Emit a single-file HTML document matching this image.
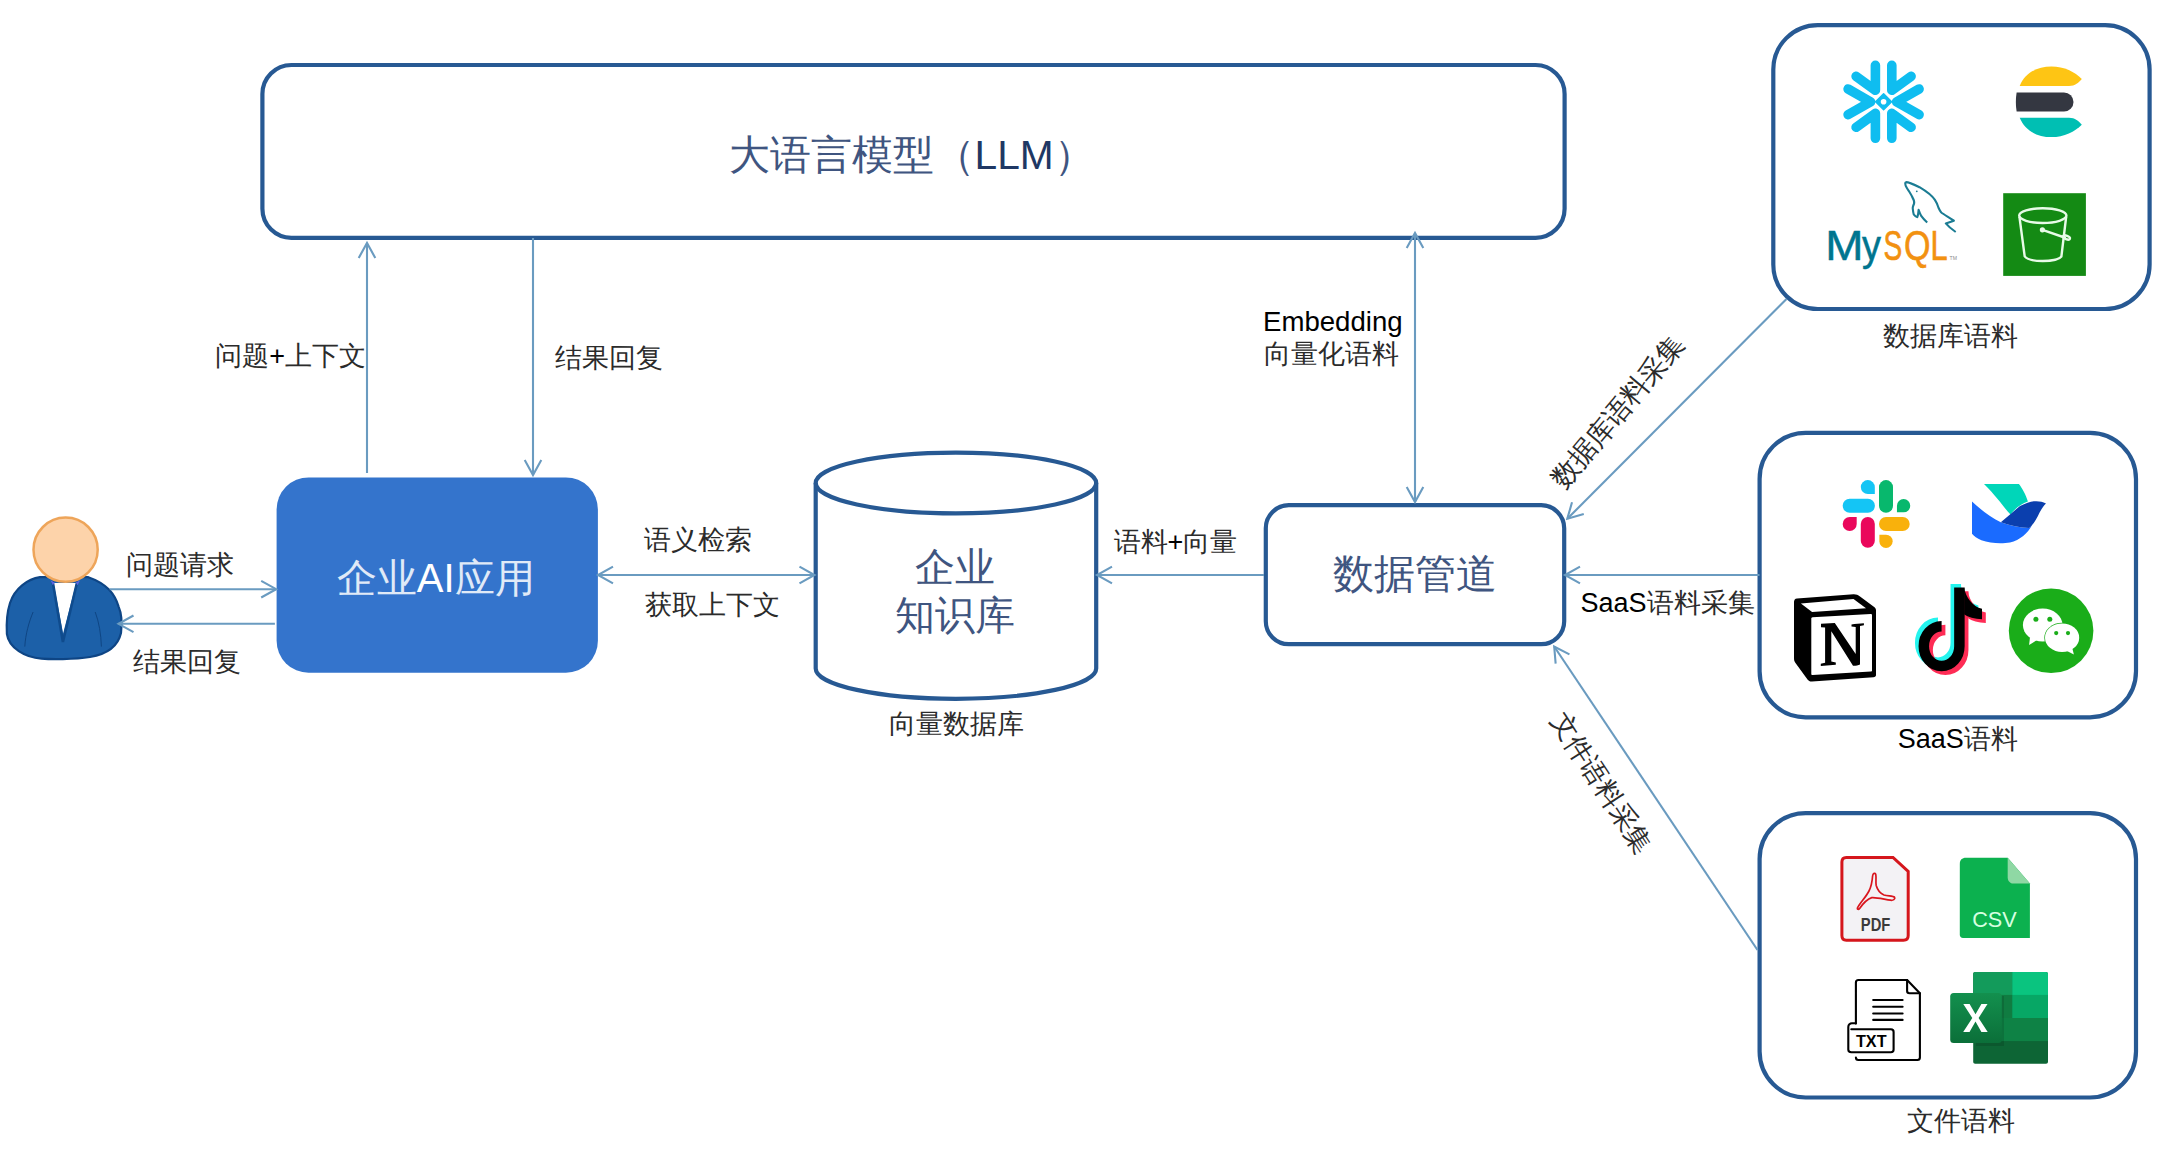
<!DOCTYPE html>
<html><head><meta charset="utf-8">
<style>
html,body{margin:0;padding:0;background:#fff;}
body{width:2162px;height:1160px;position:relative;overflow:hidden;font-family:"Liberation Sans",sans-serif;}
svg{position:absolute;left:0;top:0;}
.t{position:absolute;white-space:nowrap;line-height:1;color:#2b2b2b;}
.k{color:#000} .kn{color:#1f3864} .kw{color:#fff}
.lbl{font-size:27px;}
.big{font-size:40px;color:#3f5580;}
</style></head><body>
<svg width="2162" height="1160" viewBox="0 0 2162 1160">
<g fill="none" stroke="#275993" stroke-width="4.2"><rect x="262.4" y="65" width="1302.20" height="172.80" rx="29" ry="29" /><rect x="1265.8" y="505.2" width="298.40" height="139.00" rx="23" ry="23" /><rect x="1773.3" y="25.1" width="376.30" height="283.90" rx="44.5" ry="44.5" /><rect x="1759.6" y="432.9" width="376.40" height="284.40" rx="46" ry="46" /><rect x="1759.6" y="813.1" width="376.40" height="284.40" rx="46" ry="46" /><path d="M815.7,483 L815.7,668.4 A140.25,30.4 0 0 0 1096.2,668.4 L1096.2,483"/><ellipse cx="955.95" cy="483" rx="140.25" ry="30.4"/></g>
<rect x="276.6" y="477.4" width="321.3" height="195.4" rx="32" fill="#3474cc"/>

<g id="person">
<path d="M40,577.2 C28,579 15,588 10,603 C6.5,614 6.3,624 6.9,634 C9,648 25,657.5 41.4,658.6 C50,659.3 74,659.6 90,657 C108,654 118,646 121,633 C122.2,622 121,612 118.6,606.6 C115,595 108,584 88.3,577.2 Z" fill="#1c60a8" stroke="#0e4585" stroke-width="2.2"/>
<path d="M53.6,583 L76.2,583 L63.1,633.5 Z" fill="#fff"/>
<path d="M52.6,581 L62.9,642 M77.4,581 L62.9,642" stroke="#0f4b8d" stroke-width="2.6" fill="none"/>
<path d="M33.1,612 C29,622 25.5,634 24.8,646.6 M95.2,612 C99,622 101,634 101.4,646.6" stroke="#0f4583" stroke-width="1" fill="none"/>
<circle cx="65.6" cy="549.7" r="32.1" fill="#fdd3aa" stroke="#eea55a" stroke-width="2.5"/>
<path d="M50.5,580.3 L54.8,582.5 L52.8,585.2 Z M80,580.3 L75.7,582.5 L77.7,585.2 Z" fill="#5b63e0"/>
</g><g fill="none" stroke="#0fbdf0" stroke-width="9.6" stroke-linecap="round" stroke-linejoin="round"><polyline points="1856.1,76.3 1875.4,90.3 1875.4,65.3"/><polyline points="1911.1,76.3 1891.8,90.3 1891.8,65.3"/><polyline points="1856.1,127.3 1875.4,113.3 1875.4,138.3"/><polyline points="1911.1,127.3 1891.8,113.3 1891.8,138.3"/><polyline points="1848.1,89.0 1870.6,101.8 1848.1,114.6"/><polyline points="1919.1,89.0 1896.6,101.8 1919.1,114.6"/></g><path d="M1883.6,93.8 L1891.6,101.8 L1883.6,109.8 L1875.6,101.8 Z" fill="#0fbdf0" stroke="#0fbdf0" stroke-width="1.5" stroke-linejoin="round"/><circle cx="1883.6" cy="101.8" r="2.8" fill="#fff"/>
<path d="M2019.7,85.9 C2025,73 2037,66.5 2051.5,66.5 C2064,66.5 2075,72 2081.8,78.9 C2079,82.5 2075,85.9 2069,85.9 Z" fill="#fec514"/>
<path d="M2016.6,92.5 L2064,92.5 A9.5,9.5 0 0 1 2064,111.5 L2016.6,111.5 C2015.6,105 2015.6,99 2016.6,92.5 Z" fill="#343741"/>
<path d="M2019.7,117.7 C2025,130.6 2037,137.1 2051.5,137.1 C2064,137.1 2075,131.6 2081.8,124.7 C2079,121.1 2075,117.7 2069,117.7 Z" fill="#00bfb3"/>
<text transform="translate(1825.30,260.4) scale(1.093,1)" font-family="Liberation Sans" font-size="42" fill="#00758f" stroke="#00758f" stroke-width="0.5">M</text>
<text transform="translate(1862.00,260.4) scale(0.903,1)" font-family="Liberation Sans" font-size="42" fill="#00758f" stroke="#00758f" stroke-width="0.5">y</text>
<text transform="translate(1883.50,260.4) scale(0.670,1)" font-family="Liberation Sans" font-size="42" fill="#f29111" stroke="#f29111" stroke-width="0.7">S</text>
<text transform="translate(1903.90,260.4) scale(0.812,1)" font-family="Liberation Sans" font-size="42" fill="#f29111" stroke="#f29111" stroke-width="0.6">Q</text>
<text transform="translate(1930.50,260.4) scale(0.735,1)" font-family="Liberation Sans" font-size="42" fill="#f29111" stroke="#f29111" stroke-width="0.6">L</text>
<text x="1949.6" y="259.8" font-family="Liberation Sans" font-size="5.2" fill="#8a8a8a" textLength="7.4" lengthAdjust="spacingAndGlyphs">TM</text>
<path d="M1905.5,182.2 C1908,181.5 1915,185 1919.5,187.2 C1925,190.5 1932,195.5 1934.9,199.9 C1937,203 1938,206 1938.6,208 C1940,211 1941,212 1941.3,212.5 C1944,214.5 1950,218 1953.9,220.7 L1945.8,223.4 C1948,226 1952,229.5 1955.7,232 M1905.5,182.2 C1904.5,184 1906,187 1908.7,190.8 C1910,193 1912,196 1912.3,197.1 C1914,200 1914.5,202 1914.1,203.5 C1913,206 1912.5,208 1912.8,208.9 C1913,211 1913.3,213 1913.7,214.3 C1915,216 1916.5,217 1917.3,217.1 C1918.5,214 1918.3,212 1918.6,209.8 C1919.5,212.5 1920.5,214.5 1921.4,216.2 C1923,218.5 1925,220.5 1927.2,222.5" fill="none" stroke="#1b7c93" stroke-width="2.1" stroke-linejoin="round"/>
<circle cx="1916.8" cy="191.3" r="0.9" fill="#1b7c93"/>
<rect x="2003.2" y="193.2" width="82.7" height="82.7" fill="#148a14"/>
<g fill="none" stroke="#e8fbe8" stroke-width="2.4">
<ellipse cx="2042.8" cy="215.6" rx="23.6" ry="7.4"/>
<path d="M2019.4,216.5 L2024.7,256.4 C2027,259.5 2035,261 2042.8,261 C2050,261 2059,259.5 2061.4,256.4 L2066.2,216.5"/>
<path d="M2042.4,229.8 L2066,238"/>
<ellipse cx="2066.5" cy="237.5" rx="3.6" ry="1.8" transform="rotate(20 2066.5 237.5)"/>
</g>
<circle cx="2042.4" cy="229.8" r="2.6" fill="#e8fbe8"/><rect x="1842.7" y="498.7" width="32.2" height="14.0" rx="7.0" fill="#14c5f5"/><rect x="1879" y="480.1" width="14.0" height="32.6" rx="7.0" fill="#08b86d"/><rect x="1860.8" y="517" width="14.0" height="30.8" rx="7.0" fill="#ea075b"/><rect x="1879" y="517" width="30.7" height="14.0" rx="7.0" fill="#f9b10c"/><path d="M1874.80,487.10 L1874.80,494.10 L1867.80,494.10 A7.0,7.0 0 1 1 1874.80,487.10 Z" fill="#14c5f5"/><path d="M1896.95,505.70 L1896.95,512.35 L1903.60,512.35 A6.6499999999999995,6.6499999999999995 0 1 0 1896.95,505.70 Z" fill="#08b86d"/><path d="M1856.70,524.00 L1856.70,517.00 L1849.70,517.00 A7.0,7.0 0 1 0 1856.70,524.00 Z" fill="#ea075b"/><path d="M1879.35,541.30 L1879.35,534.65 L1886.00,534.65 A6.6499999999999995,6.6499999999999995 0 1 1 1879.35,541.30 Z" fill="#f9b10c"/>
<path d="M1984,484.1 L2018.9,484.1 C2022,488 2026,495 2027.9,501.5 C2021,504 2015,508.5 2010.5,514.4 C2004,508 1998,498 1984,484.1 Z" fill="#00d6b9"/>
<path d="M1972,501.5 C1980,509 1990,517 2000.8,522.2 C2010,525.5 2020,527.5 2029.2,528 C2030.5,527 2031.5,526 2031.8,525.4 C2028,533 2020,540 2010,542.5 C2002,544 1990,543.5 1981.4,540.3 C1977,538.5 1974,536 1972,533.8 Z" fill="#1a6bff"/>
<path d="M2000.8,522.2 C2007,517 2013.7,511.2 2020,506 C2026.6,502.8 2032,501 2036.3,501.2 C2040,501.3 2043,502 2046,503.4 C2043,506 2041,510 2039.6,512.5 C2037,518 2034,523 2031.8,525.4 C2031,526.5 2030,527.5 2029.2,528 C2020,527.5 2010,525.5 2000.8,522.2 Z" fill="#0b3fae"/>
<path d="M1797,598.5 L1853.5,594.3 C1856,594.2 1858,595 1860,596.5 L1874.5,607.2 C1875.6,608 1876,609 1876,610.5 L1876,675 C1876,676.5 1875,677 1873.5,677.2 L1812,681.6 C1810,681.7 1808.5,681 1807.5,679.6 L1795.5,663 C1794.3,661.5 1794,660 1794,658 L1794,602 C1794,600 1795,598.7 1797,598.5 Z" fill="#000"/>
<path d="M1800.9,603.5 L1853.5,599 L1866,608.3 L1812.1,612.1 Z" fill="#fff"/>
<path d="M1812.5,617.2 L1870.8,613.9 C1871.5,613.9 1872,614.4 1872,615 L1872,670.5 C1872,671.2 1871.5,671.6 1870.8,671.6 L1812.5,675 C1811.8,675 1811.3,674.6 1811.3,674 L1811.3,618.4 C1811.3,617.8 1811.8,617.3 1812.5,617.2 Z" fill="#fff"/>
<path d="M1821,623.8 L1834.8,622.9 L1855.7,654 L1855.7,627 L1851.5,626.6 L1851.5,624.6 C1855,624 1860,623.5 1863.9,623.3 L1863.9,625.3 L1860,626 L1860,664.5 C1858,665.5 1855,666 1853,665.8 L1831.3,631.3 L1831.3,661.6 L1835.8,662.5 L1835.8,664.8 L1820.8,665.9 L1820.8,663.8 L1825.1,662.8 L1825.1,627.6 L1821,627.2 Z" fill="#000"/><path d="M1938.0,622.85 A17.8,19.9 0 1 0 1955.8000000000002,642.75 L1955.8000000000002,584.1" fill="none" stroke="#25f4ee" stroke-width="10.5"/><path d="M1960.5500000000002,584.1 C1962.0500000000002,594.1 1969.0500000000002,603.1 1978.4,605.4 L1978.4,615.8000000000001 C1971.4,615.6 1964.0500000000002,613.6 1960.5500000000002,610.8000000000001 Z" fill="#25f4ee"/><path d="M1945.3999999999999,630.05 A17.8,19.9 0 1 0 1963.2,649.9499999999999 L1963.2,591.3" fill="none" stroke="#fe2c55" stroke-width="10.5"/><path d="M1967.95,591.3 C1969.45,601.3 1976.45,610.3 1985.8,612.5999999999999 L1985.8,623.0 C1978.8,622.8 1971.45,620.8 1967.95,618.0 Z" fill="#fe2c55"/><path d="M1941.6,626.25 A17.8,19.9 0 1 0 1959.4,646.15 L1959.4,587.5" fill="none" stroke="#000" stroke-width="10.5"/><path d="M1964.15,587.5 C1965.65,597.5 1972.65,606.5 1982,608.8 L1982,619.2 C1975,619 1967.65,617 1964.15,614.2 Z" fill="#000"/>
<circle cx="2051.1" cy="630.8" r="42.3" fill="#1aad19"/>
<ellipse cx="2042.7" cy="625.1" rx="19.8" ry="16.5" fill="#fff"/>
<path d="M2030,637 L2029.1,645 L2037,640 Z" fill="#fff"/>
<ellipse cx="2062.1" cy="637.7" rx="17.8" ry="14.9" fill="#1aad19"/>
<ellipse cx="2062.1" cy="637.7" rx="17.1" ry="14.3" fill="#fff"/>
<path d="M2072,647 L2073.9,654.6 L2066,650.5 Z" fill="#fff"/>
<circle cx="2035.9" cy="619.2" r="2.5" fill="#1aad19"/>
<circle cx="2049.8" cy="619.2" r="2.5" fill="#1aad19"/>
<circle cx="2056.2" cy="633.1" r="2.1" fill="#1aad19"/>
<circle cx="2068" cy="633.1" r="2.1" fill="#1aad19"/>
<path d="M1846.3,857.4 L1893,857.4 L1908.2,871.5 L1908.2,935.5 C1908.2,938.5 1906.5,940.2 1903.5,940.2 L1846.3,940.2 C1843.3,940.2 1841.9,938.5 1841.9,935.5 L1841.9,862 C1841.9,859 1843.3,857.4 1846.3,857.4 Z" fill="#f3f2f5" stroke="#d5161c" stroke-width="3"/>
<path d="M1857.6,907.6 C1860,903 1866,897 1869,891 C1871.5,886 1872.3,880 1872.6,876 C1872.8,873 1875.4,872.4 1875.8,874.6 C1876.4,878 1875.5,882 1876.2,885.5 C1877.5,890 1880.5,893.5 1884,895 C1888,896.3 1893,895.6 1894.6,897.3 C1895.5,899.2 1893,900.6 1890.5,900.2 C1885,899.5 1877,897.2 1871.8,897.6 C1866,899.5 1862,905 1859.6,908.4 C1858.5,909.8 1856.8,909.6 1857.6,907.6 Z" fill="none" stroke="#d9161e" stroke-width="1.7" stroke-linejoin="round"/>
<text x="1860.8" y="931.2" font-family="Liberation Sans" font-weight="bold" font-size="17.5" fill="#3a3a3a" textLength="29.5" lengthAdjust="spacingAndGlyphs">PDF</text>
<path d="M1966,857.8 L2007.7,857.8 L2029.9,883.6 L2029.9,938 L1963,938 C1961,938 1959.8,936.8 1959.8,934.8 L1959.8,864 C1959.8,860 1962,857.8 1966,857.8 Z" fill="#0cb14f"/>
<path d="M2007.7,857.8 L2029.9,883.6 L2013.5,883.6 C2010,883.6 2007.7,881 2007.7,877.5 Z" fill="#8fd8a4"/>
<text x="1972.2" y="927" font-family="Liberation Sans" font-size="22" fill="#d6ffe0" textLength="44.5" lengthAdjust="spacingAndGlyphs">CSV</text>
<g fill="none" stroke="#000" stroke-width="2.1" stroke-linecap="round" stroke-linejoin="round">
<path d="M1855.9,1023.6 L1855.9,982.5 C1855.9,981 1857,980 1858.5,980 L1907.1,980 L1919.9,993.2 L1919.9,1057.5 C1919.9,1059 1918.9,1060 1917.4,1060 L1858.3,1060 C1856.8,1060 1855.9,1059 1855.9,1057.5"/>
<path d="M1907.1,980 L1907.1,991 C1907.1,992.5 1908,993.2 1909.5,993.2 L1919.9,993.2"/>
<path d="M1873.2,1000 L1902.6,1000 M1873.2,1006.8 L1902.6,1006.8 M1873.2,1013.5 L1902.6,1013.5 M1873.2,1019.9 L1902.6,1019.9"/>
<path d="M1851.3,1029.3 L1890.9,1029.3 C1892.5,1029.3 1893.6,1030.4 1893.6,1032 L1893.6,1049.6 C1893.6,1051.2 1892.5,1052.3 1890.9,1052.3 L1851.3,1052.3 C1849.7,1052.3 1848.3,1051.2 1848.3,1049.6 L1848.3,1027 C1848.3,1024.8 1850,1023.3 1852,1023.3 L1855.9,1023.3"/>
</g>
<text x="1856" y="1047" font-family="Liberation Sans" font-weight="bold" font-size="16" fill="#000" textLength="30.5" lengthAdjust="spacingAndGlyphs">TXT</text>
<path d="M1975.2,972.1 L2046,972.1 C2047.2,972.1 2048,972.9 2048,974.1 L2048,1061.7 C2048,1062.9 2047.2,1063.7 2046,1063.7 L1975.2,1063.7 C1974,1063.7 1973.2,1062.9 1973.2,1061.7 L1973.2,974.1 C1973.2,972.9 1974,972.1 1975.2,972.1 Z" fill="#0d6535"/>
<path d="M1973.2,974.1 C1973.2,972.9 1974,972.1 1975.2,972.1 L2012.2,972.1 L2012.2,994.9 L1973.2,994.9 Z" fill="#139b5b"/>
<path d="M2012.2,972.1 L2046,972.1 C2047.2,972.1 2048,972.9 2048,974.1 L2048,994.9 L2012.2,994.9 Z" fill="#0ac47f"/>
<rect x="1973.2" y="994.9" width="38.9" height="23.1" fill="#107c41"/>
<rect x="2012.2" y="994.9" width="35.8" height="23.1" fill="#07a765"/>
<rect x="1973.2" y="1018" width="74.8" height="23.1" fill="#0e8245"/>
<rect x="1976" y="996" width="28" height="50" fill="#000" opacity="0.12"/>
<defs><linearGradient id="xg" x1="0" y1="0" x2="0" y2="1"><stop offset="0" stop-color="#13904e"/><stop offset="1" stop-color="#0b6f39"/></linearGradient></defs><rect x="1950.2" y="993.1" width="51.6" height="49.8" rx="3.5" fill="url(#xg)"/>
<path d="M1963.3,1004 L1969.6,1004 L1975.5,1014.2 L1981.4,1004 L1987.5,1004 L1978.6,1018 L1987.7,1032 L1981.4,1032 L1975.5,1021.6 L1969.5,1032 L1963.2,1032 L1972.3,1018 Z" fill="#fff"/>
<g fill="none" stroke="#6a9bc0" stroke-width="2.1" stroke-linecap="butt" stroke-linejoin="miter"><line x1="367" y1="473" x2="367" y2="243"/><polyline points="375.30,258.00 367,243 358.70,258.00"/><line x1="533" y1="238" x2="533" y2="475"/><polyline points="524.70,460.00 533,475 541.30,460.00"/><line x1="109.7" y1="589.2" x2="276.2" y2="589.2"/><polyline points="261.20,597.50 276.2,589.2 261.20,580.90"/><line x1="274.9" y1="623.8" x2="118.5" y2="623.8"/><polyline points="133.50,615.50 118.5,623.8 133.50,632.10"/><line x1="598" y1="575" x2="814.5" y2="575"/><polyline points="799.50,583.30 814.5,575 799.50,566.70"/><polyline points="613.00,566.70 598,575 613.00,583.30"/><line x1="1264" y1="575" x2="1097" y2="575"/><polyline points="1112.00,566.70 1097,575 1112.00,583.30"/><line x1="1415" y1="233" x2="1415" y2="502"/><polyline points="1406.70,487.00 1415,502 1423.30,487.00"/><polyline points="1423.30,248.00 1415,233 1406.70,248.00"/><line x1="1759.5" y1="575" x2="1565" y2="575"/><polyline points="1580.00,566.70 1565,575 1580.00,583.30"/><line x1="1786.5" y1="299" x2="1567.3" y2="518.8"/><polyline points="1572.02,502.32 1567.3,518.8 1583.77,514.04"/><line x1="1757.5" y1="950" x2="1554.2" y2="646.5"/><polyline points="1569.44,654.34 1554.2,646.5 1555.65,663.58"/></g>
</svg>
<div class="t big" id="t_llm" style="left:728.5px;top:134.7px;font-size:40.7px">大语言模型（<span class=kn>LLM</span>）</div>
<div class="t lbl" id="t_q1" style="left:215.3px;top:342.8px;">问题<span class=k>+</span>上下文</div>
<div class="t lbl" id="t_r1" style="left:555.0px;top:344.6px;">结果回复</div>
<div class="t big" id="t_ai" style="left:336.8px;top:558.0px;color:#e0eaf7">企业<span class=kw>AI</span>应用</div>
<div class="t lbl" id="t_q2" style="left:125.8px;top:552.2px;">问题请求</div>
<div class="t lbl" id="t_r2" style="left:133.4px;top:648.6px;">结果回复</div>
<div class="t lbl" id="t_s1" style="left:644.2px;top:527.2px;">语义检索</div>
<div class="t lbl" id="t_s2" style="left:645.0px;top:592.0px;">获取上下文</div>
<div class="t big" id="t_kb1" style="left:915.4px;top:546.5px;">企业</div>
<div class="t big" id="t_kb2" style="left:895.2px;top:594.6px;">知识库</div>
<div class="t lbl" id="t_vdb" style="left:889.0px;top:711.4px;">向量数据库</div>
<div class="t lbl" id="t_cv" style="left:1113.6px;top:529.2px;">语料<span class=k>+</span>向量</div>
<div class="t big" id="t_dp" style="left:1333.4px;top:554.0px;font-size:41px">数据管道</div>
<div class="t lbl" id="t_emb" style="left:1263.0px;top:308.4px;font-size:27.6px;color:#000">Embedding</div>
<div class="t lbl" id="t_vec" style="left:1264.0px;top:340.8px;">向量化语料</div>
<div class="t lbl" id="t_saas" style="left:1580.5px;top:589.6px;"><span class=k>SaaS</span>语料采集</div>
<div class="t lbl" id="t_dbl" style="left:1883.0px;top:322.6px;">数据库语料</div>
<div class="t lbl" id="t_sl" style="left:1897.8px;top:725.6px;"><span class=k>SaaS</span>语料</div>
<div class="t lbl" id="t_fl" style="left:1907.0px;top:1108.2px;">文件语料</div>

<div class="t lbl" id="r_db" style="font-size:27.45px;left:1523.3px;top:397.8px;transform:rotate(-50deg);transform-origin:center">数据库语料采集</div>
<div class="t lbl" id="r_fl" style="left:1520.4px;top:770.1px;transform:rotate(57deg);transform-origin:center">文件语料采集</div>
</body></html>
